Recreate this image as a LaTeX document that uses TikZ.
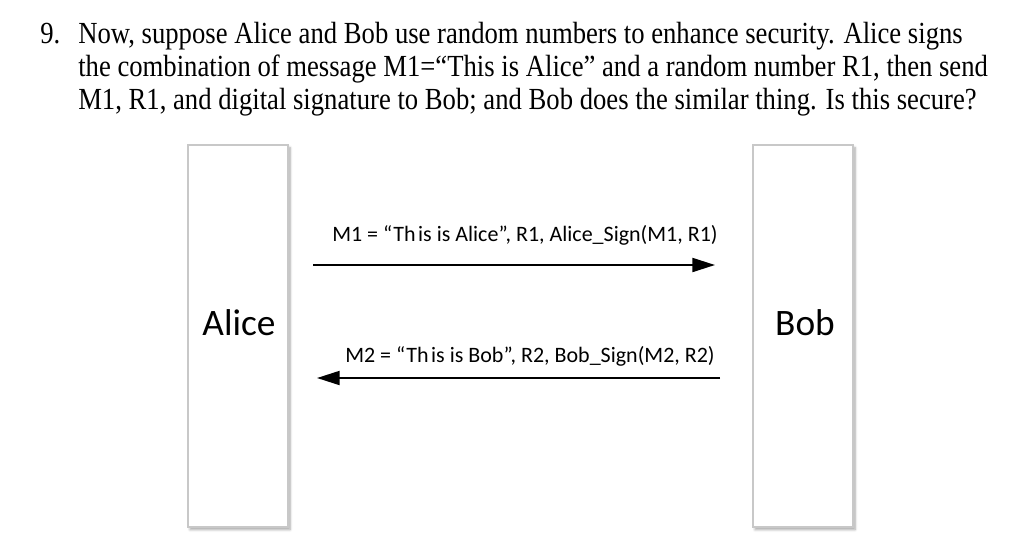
\documentclass[tikz,border=0pt]{standalone}
\usepackage{fontspec}
\setmainfont{Liberation Serif}
\newfontfamily\calfont{Carlito}
\usetikzlibrary{arrows.meta,shadows.blur}
\definecolor{boxgray}{HTML}{C8C8C8}
\newcommand{\tallline}[1]{\scalebox{1}[1.15]{#1}}
\begin{document}
\begin{tikzpicture}[x=0.75pt,y=-0.75pt,
  titleline/.style={anchor=base west, inner sep=0pt, font=\fontsize{20}{24}\selectfont},
  party/.style={draw=boxgray, line width=1.1pt, fill=white, minimum width=75pt,
    minimum height=286.5pt, inner sep=0pt,
    blur shadow={shadow xshift=1.5pt, shadow yshift=-2pt, shadow blur steps=6, shadow opacity=35}},
  partyname/.style={anchor=base, inner sep=0pt, font=\calfont\fontsize{28}{32}\selectfont},
  msglabel/.style={anchor=base west, inner sep=0pt, font=\calfont\fontsize{16.5}{20}\selectfont},
  msg/.style={line width=1.5pt, -{Triangle[length=17pt, width=10.5pt]}}]
\useasboundingbox (0,0) rectangle (1024,546);
% question text
\node[titleline] (num) at (40,43) {\tallline{9.}};
\node[titleline] (l1) at (78,43) {\tallline{Now, suppose Alice and Bob use random numbers to enhance security. Alice signs}};
\node[titleline] (l2) at (78,76) {\tallline{the combination of message M1=“This is Alice” and a random number R1, then send}};
\node[titleline] (l3) at (78,109) {\tallline{M1, R1, and digital signature to Bob; and Bob does the similar thing. Is this secure?}};
% boxes
\node[party] (alicebox) at (238,336) {};
\node[party] (bobbox) at (803,336) {};
\node[partyname] (alice) at (239,335) {Alice};
\node[partyname] (bob) at (805,335) {Bob};
% arrows
\coordinate (m1s) at (313,265);
\coordinate (m1e) at (715,265);
\coordinate (m2s) at (720,378);
\coordinate (m2e) at (317,378);
\draw[msg] (m1s) -- (m1e);
\draw[msg] (m2s) -- (m2e);
\node[msglabel] (lab1) at (332,241) {M1 = “Th\hspace{0.12em}is is Alice”, R1, Alice\_Sign(M1, R1)};
\node[msglabel] (lab2) at (345,362) {M2 = “Th\hspace{0.12em}is is Bob”, R2, Bob\_Sign(M2, R2)};
\end{tikzpicture}
\end{document}
